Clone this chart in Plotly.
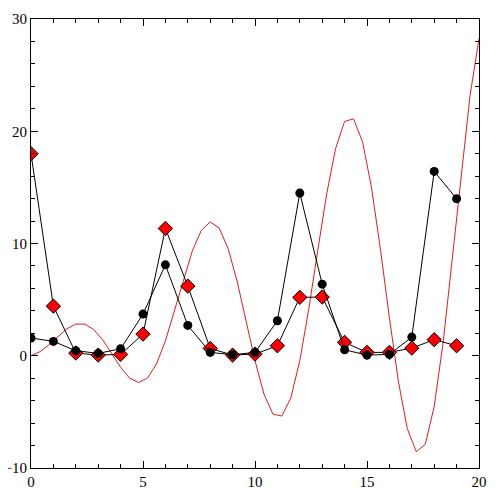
import plotly.graph_objects as go

# red curve, sampled every 0.4
curve_x = [round(i * 0.4, 1) for i in range(51)]
curve_y = [0.0, 0.36, 0.97, 1.72, 2.40, 2.82, 2.82, 2.34, 1.41, 0.21,
           -1.03, -1.99, -2.38, -1.99, -0.74, 1.32, 3.95, 6.76, 9.32, 11.16,
           11.92, 11.38, 9.55, 6.65, 3.13, -0.44, -3.41, -5.20, -5.37, -3.76,
           -0.44, 4.15, 9.36, 14.41, 18.48, 20.87, 21.11, 19.06, 15.00, 9.48,
           3.39, -2.27, -6.50, -8.55, -7.90, -4.52, 1.20, 8.47, 16.19, 23.17,
           28.26]

# point series
pts_x = list(range(20))
circle_y = [1.58, 1.28, 0.45, 0.21, 0.62, 3.71, 8.10, 2.70, 0.30, 0.09,
            0.30, 3.12, 14.49, 6.38, 0.53, 0.06, 0.12, 1.66, 16.42, 13.99]
diamond_y = [18.0, 4.42, 0.24, 0.06, 0.12, 1.93, 11.34, 6.20, 0.65, 0.06,
             0.15, 0.89, 5.20, 5.23, 1.19, 0.30, 0.30, 0.68, 1.43, 0.89]

fig = go.Figure()

fig.add_trace(go.Scatter(x=curve_x, y=curve_y, mode='lines',
                         line=dict(color='rgb(220,30,30)', width=1)))

fig.add_trace(go.Scatter(x=pts_x, y=diamond_y, mode='lines+markers',
                         line=dict(color='black', width=1),
                         marker=dict(symbol='diamond', size=11, color='red',
                                     line=dict(color='black', width=1))))

fig.add_trace(go.Scatter(x=pts_x, y=circle_y, mode='lines+markers',
                         line=dict(color='black', width=1),
                         marker=dict(symbol='circle', size=9, color='black')))

serif = 'Liberation Serif, Times New Roman, DejaVu Serif, serif'
axis_common = dict(showline=True, linecolor='black', linewidth=1, mirror='ticks',
                   ticks='inside', tickcolor='black', ticklen=7, showgrid=False,
                   zeroline=False, automargin=False, ticklabelstandoff=0,
                   tickfont=dict(family=serif, size=15, color='black'))

fig.update_xaxes(range=[0, 20], tick0=0, dtick=5,
                 minor=dict(dtick=1, ticks='inside', ticklen=4, tickcolor='black'),
                 **axis_common)
fig.update_yaxes(range=[-10, 30], tick0=-10, dtick=10,
                 minor=dict(dtick=2, ticks='inside', ticklen=4, tickcolor='black'),
                 **axis_common)

# page body adds an 8px offset, so the figure is a little smaller than the window
fig.update_layout(width=492, height=480, showlegend=False,
                  plot_bgcolor='white', paper_bgcolor='white',
                  font=dict(family=serif),
                  margin=dict(l=23, r=21, t=11, b=20))

fig.write_html('out.html')
